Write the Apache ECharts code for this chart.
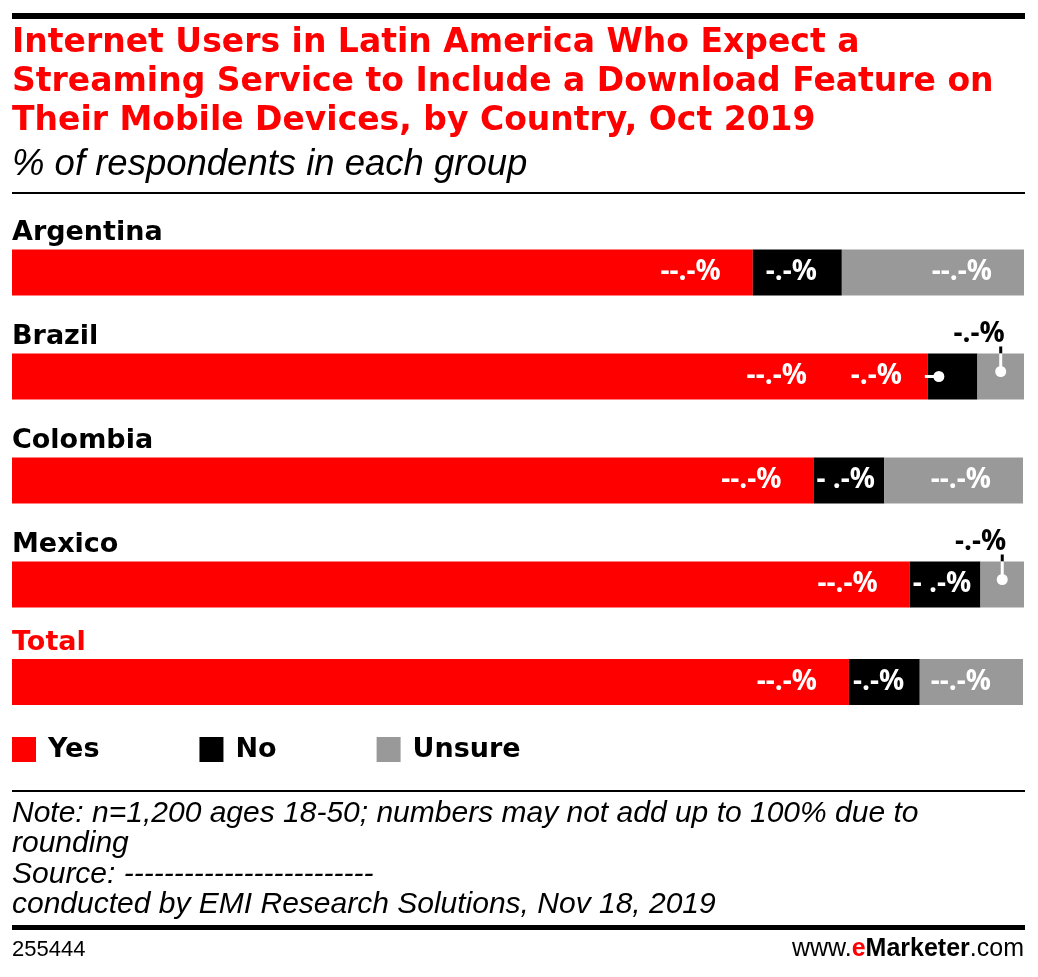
<!DOCTYPE html>
<html><head><meta charset="utf-8">
<script src="https://cdn.jsdelivr.net/npm/echarts@6/dist/echarts.min.js"></script>
<style>html,body{margin:0;padding:0;background:#fff}#c{width:1038px;height:977px}</style>
</head><body><div id="c"></div>
<script>
// ---- data ----
const countries = ['Argentina', 'Brazil', 'Colombia', 'Mexico'];
const totalCategory = ['Total'];
const yesValues = [73.2, 90.5, 79.2, 88.7];
const noValues = [8.8, 4.9, 7.0, 7.0];
const unsureValues = [18.0, 4.6, 13.7, 4.3];
const yesTotal = [82.7];
const noTotal = [7.0];
const unsureTotal = [10.2];
const yesLabels = ['--.-%', '--.-%', '--.-%', '--.-%'];
const noLabels = ['-.-%', '-.-%', '- .-%', '- .-%'];
const unsureLabels = ['--.-%', '-.-%', '--.-%', '-.-%'];
const yesTotalLabels = ['--.-%'];
const noTotalLabels = ['-.-%'];
const unsureTotalLabels = ['--.-%'];
const seriesNames = ['Yes', 'No', 'Unsure'];
// segments whose labels are drawn as callouts
const callouts = [
  { cat: 1, seg: 'No', side: 'left' },
  { cat: 1, seg: 'Unsure', side: 'top' },
  { cat: 3, seg: 'Unsure', side: 'top' }
];

const RED = '#ff0000', BLACK = '#000000', GRAY = '#999999';
const LABEL_FONT = '"Open Sans", sans-serif';
const CAT_FONT = '"DejaVu Sans", sans-serif';
const LFS = 28;

function isCallout(cat, seg) { return callouts.some(c => c.cat === cat && c.seg === seg); }

// per-item label tweaks (layout only)
function makeData(values, seg, tweaks) {
  return values.map((v, i) => {
    if (isCallout(i, seg)) return { value: v, label: { show: false } };
    if (tweaks && tweaks[i] != null) return { value: v, label: { distance: tweaks[i] } };
    return v;
  });
}
function labelCfg(texts, pos, dist) {
  return {
    show: true, position: pos, distance: dist,
    color: '#fff', fontFamily: LABEL_FONT, fontWeight: 'bold', fontSize: LFS,
    formatter: p => texts[p.dataIndex]
  };
}
function barSeries(name, color, data, axis, stack, label) {
  return {
    name, type: 'bar', stack, data, barWidth: 46,
    xAxisIndex: axis, yAxisIndex: axis,
    itemStyle: { color }, label, silent: true, animation: false
  };
}

// callout geometry data (from data arrays)
const calloutData = callouts.map(c => {
  const y = yesValues[c.cat], n = noValues[c.cat], u = unsureValues[c.cat];
  let s, e, text;
  if (c.seg === 'No') { s = y; e = y + n; text = noLabels[c.cat]; }
  else { s = y + n; e = y + n + u; text = unsureLabels[c.cat]; }
  return { value: [s, e, c.cat], text, side: c.side };
});

const catAxis = (data, idx) => ({
  type: 'category', data, inverse: true, gridIndex: idx,
  axisLine: { show: false }, axisTick: { show: false },
  axisLabel: {
    inside: true, margin: 0, verticalAlign: 'bottom', padding: [0, 0, 26, 0],
    fontFamily: CAT_FONT, fontWeight: 'bold', fontSize: 27,
    color: idx === 1 ? RED : BLACK
  },
  z: 10
});
const valAxis = idx => ({
  type: 'value', min: 0, max: 100, gridIndex: idx, show: false,
  splitLine: { show: false }
});

const SANS = '"Liberation Sans", sans-serif';
const option = {
  animation: false,
  backgroundColor: '#fff',
  title: [
    {
      text: 'Internet Users in Latin America Who Expect a\nStreaming Service to Include a Download Feature on\nTheir Mobile Devices, by Country, Oct 2019',
      left: 12, top: 24, padding: 0,
      textStyle: { fontFamily: CAT_FONT, fontWeight: 'bold', fontSize: 33, lineHeight: 39, color: RED }
    },
    {
      text: '% of respondents in each group',
      left: 12, top: 146, padding: 0,
      textStyle: { fontFamily: SANS, fontStyle: 'italic', fontWeight: 'normal', fontSize: 36.5, lineHeight: 37, color: '#000' }
    },
    {
      text: 'Note: n=1,200 ages 18-50; numbers may not add up to 100% due to\nrounding\nSource: -------------------------\nconducted by EMI Research Solutions, Nov 18, 2019',
      left: 12, top: 798, padding: 0,
      textStyle: { fontFamily: SANS, fontStyle: 'italic', fontWeight: 'normal', fontSize: 30, lineHeight: 30.6, color: '#000' }
    },
    {
      text: '255444', left: 12, top: 939, padding: 0,
      textStyle: { fontFamily: SANS, fontWeight: 'normal', fontSize: 22, lineHeight: 22, color: '#000' }
    },
    {
      text: '{a|www.}{b|e}{c|Marketer}{a|.com}', right: 14, top: 937, padding: 0,
      textStyle: {
        fontSize: 25, lineHeight: 25, fontWeight: 'normal',
        rich: {
          a: { fontFamily: SANS, fontSize: 25, fontWeight: 'normal', color: '#000' },
          b: { fontFamily: SANS, fontSize: 25, fontWeight: 'bold', color: RED },
          c: { fontFamily: SANS, fontSize: 25, fontWeight: 'bold', color: '#000' }
        }
      }
    }
  ],
  legend: {
    data: seriesNames, left: 12, top: 736, icon: 'rect', itemWidth: 24, itemHeight: 25,
    itemGap: 100, selectedMode: false, padding: 0,
    textStyle: { fontFamily: CAT_FONT, fontWeight: 'bold', fontSize: 27, color: '#000', padding: [0, 0, 0, 7] }
  },
  grid: [
    { left: 12, right: 14, top: 220.5, height: 416 },
    { left: 12, right: 14, top: 652, height: 60 }
  ],
  xAxis: [valAxis(0), valAxis(1)],
  yAxis: [catAxis(countries, 0), catAxis(totalCategory, 1)],
  graphic: [
    { type: 'rect', shape: { x: 12, y: 13, width: 1013, height: 6 }, style: { fill: '#000' } },
    { type: 'rect', shape: { x: 12, y: 192, width: 1013, height: 2 }, style: { fill: '#000' } },
    { type: 'rect', shape: { x: 12, y: 790, width: 1013, height: 2 }, style: { fill: '#000' } },
    { type: 'rect', shape: { x: 12, y: 925, width: 1013, height: 5 }, style: { fill: '#000' } }
  ],
  series: [
    barSeries('Yes', RED, makeData(yesValues, 'Yes', [null, 121, null, null]), 0, 'a', labelCfg(yesLabels, 'insideRight', 32)),
    barSeries('No', BLACK, makeData(noValues, 'No', [13, null, null, null]), 0, 'a', labelCfg(noLabels, 'insideLeft', 3)),
    barSeries('Unsure', GRAY, makeData(unsureValues, 'Unsure'), 0, 'a', labelCfg(unsureLabels, 'insideRight', 32)),
    barSeries('Yes', RED, yesTotal, 1, 'b', labelCfg(yesTotalLabels, 'insideRight', 32)),
    barSeries('No', BLACK, noTotal, 1, 'b', labelCfg(noTotalLabels, 'insideLeft', 4)),
    barSeries('Unsure', GRAY, unsureTotal, 1, 'b', labelCfg(unsureTotalLabels, 'insideRight', 32)),
    {
      type: 'custom', xAxisIndex: 0, yAxisIndex: 0, silent: true, z: 20,
      encode: { x: [0, 1], y: 2 },
      data: calloutData,
      renderItem: function (params, api) {
        const d = calloutData[params.dataIndex];
        const s = api.value(0), e = api.value(1), cat = api.value(2);
        const p0 = api.coord([s, cat]), p1 = api.coord([e, cat]);
        const cy = p0[1], barTop = cy - 23;
        const font = 'bold ' + LFS + 'px ' + LABEL_FONT;
        if (d.side === 'left') {
          const dotX = p0[0] + 11;
          return { type: 'group', children: [
            { type: 'line', shape: { x1: p0[0] - 3, y1: cy, x2: dotX, y2: cy }, style: { stroke: '#fff', lineWidth: 3 } },
            { type: 'circle', shape: { cx: dotX, cy: cy, r: 5.5 }, style: { fill: '#fff' } },
            { type: 'text', style: { text: d.text, x: p0[0] - 26, y: cy, align: 'right', verticalAlign: 'middle', fill: '#fff', font } }
          ] };
        }
        const dotX = (p0[0] + p1[0]) / 2, dotY = cy - 5;
        return { type: 'group', children: [
          { type: 'line', shape: { x1: dotX, y1: barTop - 7, x2: dotX, y2: barTop }, style: { stroke: '#000', lineWidth: 3 } },
          { type: 'line', shape: { x1: dotX, y1: barTop, x2: dotX, y2: dotY }, style: { stroke: '#fff', lineWidth: 3 } },
          { type: 'circle', shape: { cx: dotX, cy: dotY, r: 5.5 }, style: { fill: '#fff' } },
          { type: 'text', style: { text: d.text, x: dotX + 4, y: barTop - 5, align: 'right', verticalAlign: 'bottom', fill: '#000', font } }
        ] };
      }
    }
  ]
};

const chart = echarts.init(document.getElementById('c'), null, { renderer: 'canvas' });
chart.setOption(option);
</script>
</body></html>
